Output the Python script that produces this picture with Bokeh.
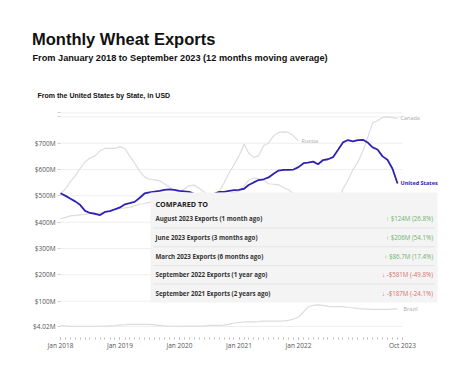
import pandas as pd
from bokeh.plotting import figure
from bokeh.models import Range1d, FixedTicker, DatetimeTickFormatter, Label, BoxAnnotation
from bokeh.embed import file_html
from bokeh.resources import INLINE

# ---------------- data (USD millions, 12-month moving average) ----------------
months = pd.date_range("2018-01-01", "2023-09-01", freq="MS")

us = [510, 500, 490, 479, 466, 443, 435, 432, 427, 439,
      442, 449, 456, 468, 472, 477, 492, 509, 513, 516,
      519, 523, 525, 523, 519, 517, 515, 508, 500, 496,
      500, 508, 515, 515, 519, 522, 523, 527, 541, 551,
      560, 563, 570, 584, 596, 599, 599, 600, 609, 624,
      626, 630, 620, 636, 639, 647, 675, 703, 712, 707,
      712, 713, 703, 684, 676, 650, 637, 603, 547]

canada = [413, 418, 424, 426, 428, 430, 432, 433, 435, 439,
          443, 449, 452, 454, 456, 462, 468, 471, 475, 480,
          485, 490, 493, 497, 500, 503, 505, 505, 503, 500,
          500, 502, 505, 508, 510, 513, 519, 538, 560, 568,
          565, 560, 546, 544, 542, 532, 523, 508, 490, 465,
          440, 415, 395, 385, 390, 420, 470, 527, 559, 599,
          629, 671, 720, 777, 785, 798, 800, 797, 794]

russia = [507, 527, 553, 576, 603, 629, 644, 652, 671, 680,
          680, 680, 687, 679, 652, 625, 595, 572, 563, 561,
          557, 546, 534, 521, 515, 527, 538, 541, 529, 515,
          500, 492, 515, 549, 587, 618, 652, 696, 663, 646,
          652, 690, 701, 728, 741, 743, 741, 728, 709]

brazil = [8, 6, 4.5, 4.02, 4.1, 4.3, 4.2, 4.5, 4.8,
          5, 6, 7, 10, 11,
          12, 12, 12, 12, 12,
          10, 8, 6, 5, 4.5, 4.5,
          5, 5, 5, 5, 5,
          8, 8, 8, 9,
          13, 17, 19,
          21, 21, 21, 22,
          24, 24, 24, 24, 25, 27,
          32, 40, 59, 78, 84, 86,
          84, 80, 79, 79, 79, 76, 75,
          72, 71, 70, 69, 69, 69, 69, 70, 71]

y_ticks = [4.02, 100, 200, 300, 400, 500, 600, 700, 800, 815]
y_tick_labels = ["$4.02M", "$100M", "$200M", "$300M", "$400M", "$500M",
                 "$600M", "$700M", "", ""]
x_tick_dates = ["2018-01-01", "2019-01-01", "2020-01-01", "2021-01-01",
                "2022-01-01", "2023-10-01"]

compare_rows = ["August 2023 Exports (1 month ago)",
                "June 2023 Exports (3 months ago)",
                "March 2023 Exports (6 months ago)",
                "September 2022 Exports (1 year ago)",
                "September 2021 Exports (2 years ago)"]
compare_vals = ["\u2191 $124M (26.8%)", "\u2191 $206M (54.1%)", "\u2191 $86.7M (17.4%)",
                "\u2193 -$581M (-49.8%)", "\u2193 -$187M (-24.1%)"]
compare_up = [True, True, True, False, False]

assert len(us) == len(months) == len(canada) == len(brazil)

# ---------------- figure ----------------
W, H = 474, 375
LEFT, BOTTOM = 60, 38          # pixel position of Jan 2018, height of bottom axis band
FH = H - BOTTOM
PX_PER_DAY = 59.5 / 365.25

x0 = pd.Timestamp("2018-01-01")
x_start = x0 - pd.Timedelta(days=LEFT / PX_PER_DAY)
x_end = x0 + pd.Timedelta(days=(W - LEFT) / PX_PER_DAY)
axis_end = pd.Timestamp("2023-10-01")

p = figure(width=W, height=H, output_backend="svg", toolbar_location=None,
           x_axis_type="datetime",
           x_range=Range1d(x_start, x_end), y_range=Range1d(-38, 1242),
           min_border_left=0, min_border_right=0, min_border_top=0,
           min_border_bottom=BOTTOM)
p.outline_line_color = None
p.xgrid.visible = False
p.ygrid.visible = False
p.background_fill_color = "white"
p.border_fill_color = "white"

# grid lines (manual, so they stop at the axis ends)
p.segment(x0=[x0] * len(y_ticks), x1=[axis_end] * len(y_ticks),
          y0=y_ticks, y1=y_ticks, line_color="#eeeeee", line_width=1)

# y axis, pinned at Jan 2018
p.yaxis.fixed_location = x0.value // 10**6
p.yaxis.ticker = FixedTicker(ticks=y_ticks)
p.yaxis.major_label_overrides = dict(zip(y_ticks, y_tick_labels))
p.yaxis.axis_line_color = None
p.yaxis.major_tick_out = 3
p.yaxis.major_tick_in = 0
p.yaxis.major_tick_line_color = "#d0d0d0"
p.yaxis.minor_tick_line_color = None
p.yaxis.major_label_text_font = "Open Sans"
p.yaxis.major_label_text_font_size = "6.5px"
p.yaxis.major_label_text_color = "#555555"
p.yaxis.major_label_standoff = 2

# x axis
x_ticks = [pd.Timestamp(d).value // 10**6 for d in x_tick_dates]
monthly = [t.value // 10**6 for t in pd.date_range("2018-01-01", "2023-10-01", freq="MS")]
p.xaxis.ticker = FixedTicker(ticks=x_ticks, minor_ticks=monthly)
fmt = "%b %Y"
p.xaxis.formatter = DatetimeTickFormatter(milliseconds=fmt, seconds=fmt, minsec=fmt,
                                          minutes=fmt, hourmin=fmt, hours=fmt, days=fmt,
                                          months=fmt, years=fmt)
p.xaxis.bounds = (x0, axis_end)
p.xaxis.axis_line_color = None
p.xaxis.major_tick_out = 2
p.xaxis.major_tick_in = 0
p.xaxis.minor_tick_out = 2
p.xaxis.minor_tick_in = 0
p.xaxis.major_tick_line_color = "#bbbbbb"
p.xaxis.minor_tick_line_color = "#bbbbbb"
p.xaxis.major_label_text_font = "Open Sans"
p.xaxis.major_label_text_font_size = "6.5px"
p.xaxis.major_label_text_color = "#555555"
p.xaxis.major_label_standoff = 1

# lines
grey = "#dddddd"
p.line(months, canada, line_color=grey, line_width=1.2)
p.line(months[:len(russia)], russia, line_color=grey, line_width=1.2)
p.line(months, brazil, line_color=grey, line_width=1.2)
blue = "#2e21b3"
p.line(months, us, line_color=blue, line_width=1.8)

# end labels
def end_label(x, y, text, color, bold=False, xo=3):
    p.add_layout(Label(x=x, y=y, text=text, x_offset=xo, text_baseline="middle",
                       text_font="Open Sans", text_font_size="5.5px",
                       text_color=color, text_font_style="bold" if bold else "normal"))

end_label(months[-1], canada[-1], "Canada", "#aaaaaa")
end_label(months[len(russia) - 1], russia[-1], "Russia", "#aaaaaa")
end_label(months[-1], brazil[-1], "Brazil", "#aaaaaa", xo=6)
end_label(months[-1], us[-1], "United States", blue, bold=True)

# ---------------- titles (screen units; frame starts at canvas left) ----------------
def slabel(xpx, ypx, text, size, font="Liberation Sans", style="bold", color="#111111",
           align="left", baseline="alphabetic"):
    p.add_layout(Label(x=xpx, y=FH - ypx, x_units="screen", y_units="screen",
                       text=text, text_font=font, text_font_size=size,
                       text_font_style=style, text_color=color, text_align=align,
                       text_baseline=baseline))

slabel(31.5, 38, "Monthly Wheat Exports", "16.5px")
slabel(32, 57.5, "From January 2018 to September 2023 (12 months moving average)", "9.2px")
slabel(37, 95, "From the United States by State, in USD", "7px")

# ---------------- "compared to" panel ----------------
def sbox(l, r, t, b, color):
    p.add_layout(BoxAnnotation(left=l, right=r, top=FH - t, bottom=FH - b,
                               left_units="screen", right_units="screen",
                               top_units="screen", bottom_units="screen",
                               fill_color=color, fill_alpha=1, line_color=None))

sbox(150, 437, 192, 302, "#f4f4f4")
for sy in [227.5, 246.2, 264.9, 283.6]:
    sbox(153, 434, sy - 0.5, sy + 0.5, "#e4e4e4")

slabel(155, 203, "COMPARED TO", "7.2px", font="Open Sans", color="#222222", baseline="middle")
row_y = [218.3, 236.9, 255.6, 274.3, 293.0]
for ry, txt, val, up in zip(row_y, compare_rows, compare_vals, compare_up):
    slabel(155, ry, txt, "6.2px", font="Open Sans", color="#333333", baseline="middle")
    slabel(432.5, ry, val, "6.2px", font="Open Sans", style="normal",
           color="#6db36d" if up else "#d9706b", align="right", baseline="middle")

open("out.html", "w").write(file_html(p, INLINE))
